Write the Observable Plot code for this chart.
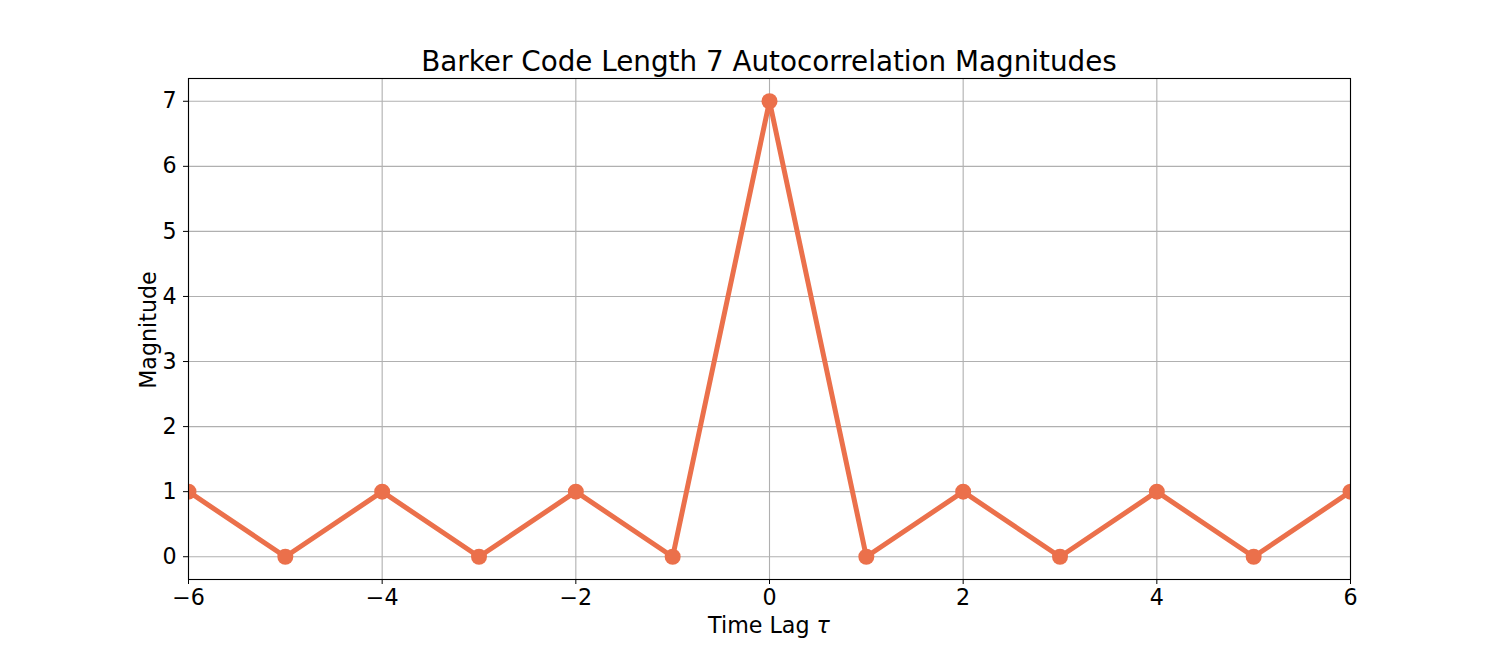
<!DOCTYPE html>
<html>
<head>
<meta charset="utf-8">
<script src="https://cdn.jsdelivr.net/npm/d3@7"></script>
<script src="https://cdn.jsdelivr.net/npm/@observablehq/plot@0.6"></script>
<style>
  html, body { margin: 0; padding: 0; background: #fff; }
  #wrap { position: relative; width: 1500px; height: 650px; font-family: "DejaVu Sans", sans-serif; }
  #title { position: absolute; left: 188px; width: 1162px; top: 44px; text-align: center; font-size: 27.8px; line-height: 36px; color: #000; }
  #xlabel { position: absolute; left: 188px; width: 1162px; top: 611px; text-align: center; font-size: 22.2px; line-height: 28px; color: #000; }
  #ylabel { position: absolute; left: 148px; top: 330px; transform: translate(-50%, -50%) rotate(-90deg); font-size: 22.2px; line-height: 28px; white-space: nowrap; color: #000; }
</style>
</head>
<body>
<div id="wrap">
  <div id="chart"></div>
  <div id="title">Barker Code Length 7 Autocorrelation Magnitudes</div>
  <div id="xlabel">Time Lag <i>τ</i></div>
  <div id="ylabel">Magnitude</div>
</div>
<script>
const lags = [-6, -5, -4, -3, -2, -1, 0, 1, 2, 3, 4, 5, 6];
const magnitudes = [1, 0, 1, 0, 1, 0, 7, 0, 1, 0, 1, 0, 1];
const xTicks = [-6, -4, -2, 0, 2, 4, 6];
const yTicks = [0, 1, 2, 3, 4, 5, 6, 7];

const data = lags.map((lag, i) => ({lag, mag: magnitudes[i]}));
const color = "#EB704B";
const fmt = d => (d < 0 ? "\u2212" + Math.abs(d) : String(d));

const chart = Plot.plot({
  width: 1500,
  height: 650,
  marginTop: 78,
  marginBottom: 71,
  marginLeft: 188,
  marginRight: 150,
  style: { fontFamily: "DejaVu Sans, sans-serif", fontSize: "22.2px", color: "#000", background: "#fff" },
  x: { domain: [-6, 6], label: null },
  y: { domain: [-0.35, 7.35], label: null },
  marks: [
    Plot.gridX(xTicks, { stroke: "#b0b0b0", strokeOpacity: 1, strokeWidth: 1.1 }),
    Plot.gridY(yTicks, { stroke: "#b0b0b0", strokeOpacity: 1, strokeWidth: 1.1 }),
    Plot.axisX({ ticks: xTicks, tickFormat: fmt, tickSize: 5, tickPadding: 5, label: null, fontSize: 22.2 }),
    Plot.axisY({ ticks: yTicks, tickSize: 5, tickPadding: 7, label: null, fontSize: 22.2 }),
    Plot.line(data, { x: "lag", y: "mag", stroke: color, strokeWidth: 5, clip: true }),
    Plot.dot(data, { x: "lag", y: "mag", r: 8, fill: color, stroke: "none", clip: true }),
    Plot.frame({ stroke: "#000", strokeWidth: 1.1 })
  ]
});
document.getElementById("chart").appendChild(chart);
</script>
</body>
</html>
